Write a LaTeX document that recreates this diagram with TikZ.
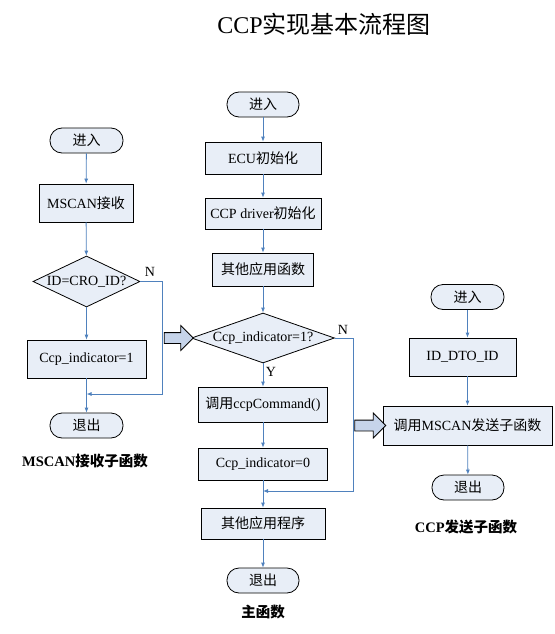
\documentclass[tikz,border=0pt]{standalone}
\usepackage{fontspec}
\setmainfont{Liberation Serif}
\newfontfamily\cjk{Noto Sans CJK SC}
\newcommand{\zh}[1]{{\cjk #1}}
\usetikzlibrary{shapes.geometric,shapes.arrows,arrows.meta}
\definecolor{boxfill}{HTML}{E8EEF7}
\definecolor{flowblue}{HTML}{4F81BD}
\definecolor{arrfill}{HTML}{C6D4EA}
\begin{document}
\begin{tikzpicture}[x=1pt,y=-1pt,
  every node/.style={font=\fontsize{14}{16}\selectfont},
  term/.style={draw,fill=boxfill,line width=0.8pt,rounded corners=12pt,minimum width=73pt,minimum height=25pt,inner sep=0pt},
  proc/.style={draw,fill=boxfill,line width=0.8pt,minimum height=33pt,inner sep=0pt},
  dec/.style={draw,fill=boxfill,line width=0.8pt,diamond,inner sep=0pt},
  flow/.style={draw=flowblue,line width=0.8pt,-{Latex[length=5pt,width=4pt]}},
  bigarr/.style={draw,fill=arrfill,line width=0.8pt,single arrow,single arrow head extend=7pt,inner xsep=0pt,inner ysep=5pt},
  caption/.style={font=\fontsize{14.5}{16}\selectfont\bfseries}]
\useasboundingbox (0,0) rectangle (554,634);

\node (title) at (324,24) {\fontsize{24}{26}\selectfont CCP\zh{实现基本流程图}};

% MSCAN receive
\node[term] (in1) at (86.5,140.5) {\zh{进入}};
\node[proc,minimum width=94pt,minimum height=38pt] (ms1) at (86,203) {MSCAN\zh{接收}};
\node[dec,minimum width=107pt,minimum height=51pt,label={center:ID=CRO\_ID?}] (d1) at (86.5,281.5) {};
\node[proc,minimum width=119pt,minimum height=38pt] (ci1) at (86.5,359) {Ccp\_indicator=1};
\node[term] (out1) at (86.5,425.5) {\zh{退出}};
\node (n1) at (150,272) {N};
\node[caption] (cap1) at (85,461) {MSCAN\zh{接收子函数}};
\coordinate (j1) at (86.5,394);

\draw[flow] (in1) -- (ms1);
\draw[flow] (ms1) -- (d1);
\draw[flow] (d1) -- (ci1);
\draw[flow] (ci1) -- (out1);
\draw[flow] (d1.east) -- ++(22,0) |- (j1);

% main
\node[term,minimum width=72pt] (in2) at (263,104.5) {\zh{进入}};
\node[proc,minimum width=116pt,minimum height=32pt] (ecu) at (263,158) {ECU\zh{初始化}};
\node[proc,minimum width=116pt,minimum height=31pt] (drv) at (263,213.5) {CCP driver\zh{初始化}};
\node[proc,minimum width=101pt] (oth) at (263,269.5) {\zh{其他应用函数}};
\node[dec,minimum width=143pt,minimum height=50pt,label={center:Ccp\_indicator=1?}] (d2) at (263,338) {};
\node[proc,minimum width=129pt,minimum height=35pt] (cmd) at (263,404.5) {\zh{调用}ccpCommand()};
\node[proc,minimum width=129pt,minimum height=32pt] (ci0) at (263,464) {Ccp\_indicator=0};
\node[proc,minimum width=124pt,minimum height=31pt] (prog) at (263,523.5) {\zh{其他应用程序}};
\node[term,minimum width=72pt] (out2) at (263,580.5) {\zh{退出}};
\node (n2) at (343,330) {N};
\node (y2) at (271,372) {Y};
\node[caption] (cap2) at (263,612) {\zh{主函数}};
\coordinate (j2) at (263,491);

\draw[flow] (in2) -- (ecu);
\draw[flow] (ecu) -- (drv);
\draw[flow] (drv) -- (oth);
\draw[flow] (oth) -- (d2);
\draw[flow] (d2) -- (cmd);
\draw[flow] (cmd) -- (ci0);
\draw[flow] (ci0) -- (prog);
\draw[flow] (prog) -- (out2);
\draw[flow] (d2.east) -- ++(18,0) |- (j2);

% CCP send
\node[term] (in3) at (467.5,297) {\zh{进入}};
\node[proc,minimum width=107pt,minimum height=38pt] (id3) at (462.5,357) {ID\_DTO\_ID};
\node[proc,minimum width=169pt,minimum height=39pt] (send) at (467.5,425.5) {\zh{调用}MSCAN\zh{发送子函数}};
\node[term,minimum width=72pt] (out3) at (468,487.5) {\zh{退出}};
\node[caption] (cap3) at (466,527) {CCP\zh{发送子函数}};

\draw[flow] (in3) -- (in3 |- id3.north);
\draw[flow] (in3 |- id3.south) -- (in3 |- send.north);
\draw[flow] (send) -- (out3);

% block arrows
\node[bigarr,minimum height=29pt] (ba1) at (176,338) {};
\node[bigarr,minimum height=31pt] (ba2) at (367.5,425.5) {};
\end{tikzpicture}
\end{document}
